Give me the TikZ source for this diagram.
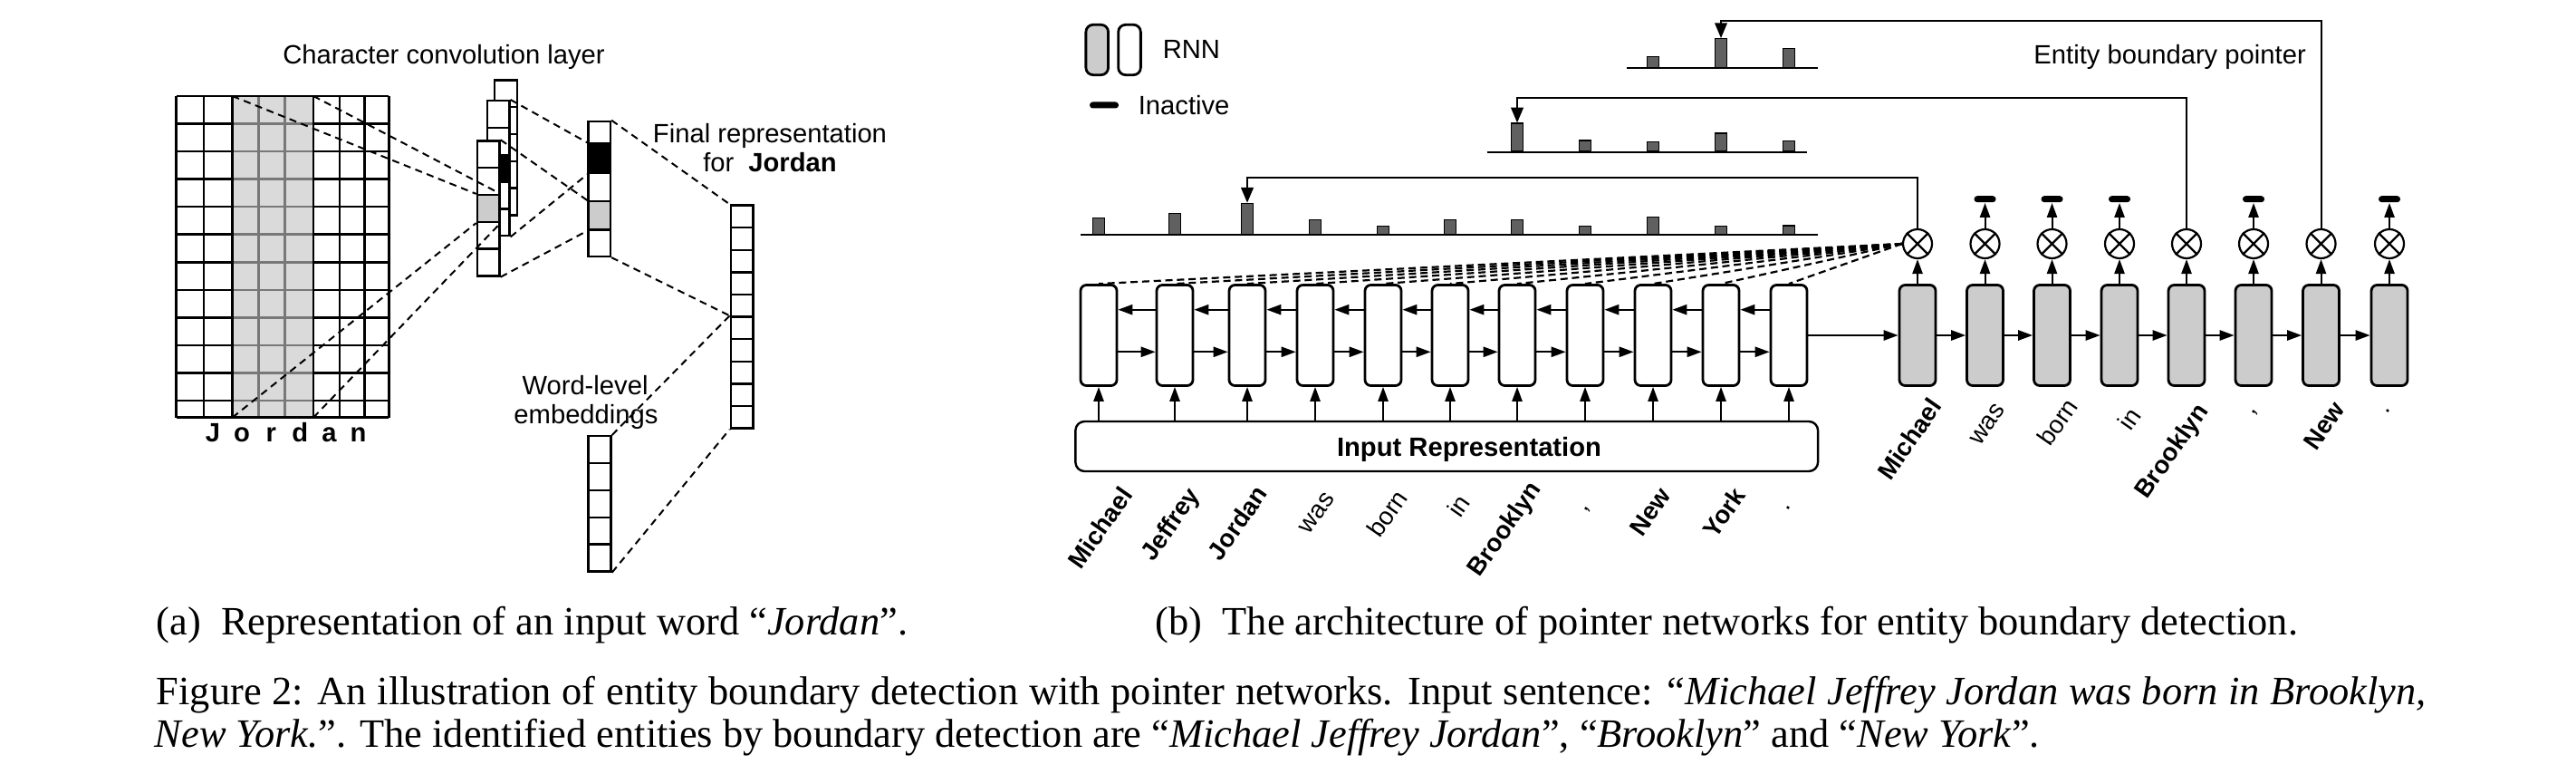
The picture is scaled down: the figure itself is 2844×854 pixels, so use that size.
\documentclass[tikz,border=0pt]{standalone}
\usepackage{fontspec}
\setmainfont{Liberation Serif}
\newfontfamily\diagfont{Liberation Sans}
\usetikzlibrary{calc}
\usetikzlibrary{arrows.meta}

\newcommand{\pxu}{0.25pt}
\definecolor{cellgray}{RGB}{204,204,204}
\definecolor{bandgray}{RGB}{218,218,218}
\definecolor{gridgray}{RGB}{120,120,120}
\definecolor{bargray}{RGB}{96,96,96}

\tikzset{
  txt/.style={font=\diagfont\fontsize{7.3pt}{8.8pt}\selectfont, inner sep=0pt},
  txtb/.style={font=\diagfont\bfseries\fontsize{7.3pt}{8.8pt}\selectfont, inner sep=0pt},
  capline/.style={font=\fontsize{11.1pt}{13pt}\selectfont, inner sep=0pt, anchor=base west},
  gridline/.style={line width=0.65pt},
  cellbox/.style={draw, line width=0.6pt, inner sep=0pt, anchor=north west},
  rnnbox/.style={draw, line width=0.7pt, rounded corners=1.6pt, minimum width=40*\pxu, minimum height=111*\pxu, inner sep=0pt},
  encbox/.style={rnnbox, fill=white},
  decbox/.style={rnnbox, fill=cellgray},
  arr/.style={line width=0.5pt, -{Triangle[length=4pt,width=2.8pt]}},
  pointer/.style={line width=0.5pt, -{Triangle[length=4.2pt,width=3.4pt]}},
  mulnode/.style={draw, circle, line width=0.55pt, minimum size=32*\pxu, inner sep=0pt},
  offmark/.style={fill=black, rounded corners=0.85pt, minimum width=24*\pxu, minimum height=7*\pxu, inner sep=0pt},
  attbar/.style={draw, fill=bargray, line width=0.3pt, minimum width=12.6*\pxu, inner sep=0pt, anchor=south},
  chartaxis/.style={line width=0.5pt},
  proj/.style={line width=0.5pt, dash pattern=on 2pt off 1.4pt},
  attn/.style={line width=0.55pt, dash pattern=on 2pt off 1.2pt},
  wordlbl/.style={font=\diagfont\fontsize{6.9pt}{8.2pt}\selectfont, inner sep=0pt, rotate=55, anchor=base east},
}

\begin{document}
\begin{tikzpicture}[x=\pxu, y=-\pxu]
  \useasboundingbox (0,0) rectangle (2844,854); %画像の大きさ

  %%%%% (a) 単語の表現
  \coordinate (bandtl) at (256.5,106); %帯の左上
  \coordinate (bandtr) at (346,106); %帯の右上
  \coordinate (bandbl) at (256.5,460.7); %帯の左下
  \coordinate (bandbr) at (346,460.7); %帯の右下
  \fill[bandgray] (bandtl) rectangle (bandbr); %灰色の帯
  \foreach \k in {1,...,11}{
    \draw[gridline, draw=gridgray] (256.5,{106+30.55*\k}) -- (346,{106+30.55*\k});
    \draw[gridline] (194.5,{106+30.55*\k}) -- (256.5,{106+30.55*\k});
    \draw[gridline] (346,{106+30.55*\k}) -- (429.2,{106+30.55*\k});
  }
  \foreach \gx in {285.4,314.4} \draw[gridline, draw=gridgray] (\gx,106) -- (\gx,460.7); %帯の中の縦線
  \foreach \gx in {194.5,224.8,256.5,346,375,402.5,429.2} \draw[gridline] (\gx,106) -- (\gx,460.7); %縦線
  \draw[gridline] (194.5,106) -- (429.2,106); %上端
  \draw[gridline] (194.5,460.7) -- (429.2,460.7); %下端
  \foreach \ch [count=\i from 0] in {J,o,r,d,a,n}
    \node[txtb, anchor=base] (chr\i) at ({235+32.1*\i},487) {\ch}; %文字

  \node[txt, anchor=base] (convlbl) at (490,70.4) {Character convolution layer};

  % 畳み込みの列
  \foreach \k/\ff in {0/white,1/white,2/white,3/white,4/white}
    \node[cellbox, fill=\ff, minimum width=24.5*\pxu, minimum height=29.8*\pxu] (A\k) at (545,{87.3+29.8*\k}) {};
  \foreach \k/\ff in {0/white,1/white,2/black,3/white,4/white}
    \node[cellbox, fill=\ff, minimum width=24.5*\pxu, minimum height=29.8*\pxu] (B\k) at (536.7,{110+29.8*\k}) {};
  \foreach \k/\ff in {0/white,1/white,2/cellgray,3/white,4/white}
    \node[cellbox, fill=\ff, minimum width=24.5*\pxu, minimum height=29.8*\pxu] (C\k) at (525.7,{154.3+29.8*\k}) {};

  % プーリング後
  \foreach \k/\yy/\hh/\ff in {0/132.7/24.6/white,1/157.3/32.7/black,2/190/31/white,3/221/31.3/cellgray,4/252.3/29.4/white}
    \node[cellbox, fill=\ff, minimum width=24.4*\pxu, minimum height=\hh*\pxu] (M\k) at (648.3,\yy) {};

  % 最終表現
  \foreach \k in {0,...,9}
    \node[cellbox, fill=white, minimum width=24.8*\pxu, minimum height=24.59*\pxu] (F\k) at (805.6,{225.4+24.59*\k}) {};
  % 単語埋め込み
  \foreach \k in {0,...,4}
    \node[cellbox, fill=white, minimum width=25*\pxu, minimum height=29.86*\pxu] (W\k) at (648.3,{480+29.86*\k}) {};

  \node[txt, anchor=base] (finallbl) at (850,158) {Final representation};
  \node[txt, anchor=base] (forlbl) at (850,190) {for\hspace{0.55em}\textbf{Jordan}};
  \node[txt, anchor=base] (wordlvl) at (646,436) {Word-level};
  \node[txt, anchor=base] (emblbl) at (647,468) {embeddings};

  \draw[proj] (bandtl) -- (C2.north west);
  \draw[proj] (bandtr) -- (C2.north east);
  \draw[proj] (bandbl) -- (C2.south west);
  \draw[proj] (bandbr) -- (C2.south east);
  \draw[proj] (B0.north east) -- (M1.north west);
  \draw[proj] (B4.south east) -- (M1.south west);
  \draw[proj] (C0.north east) -- (M3.north west);
  \draw[proj] (C4.south east) -- (M3.south west);
  \draw[proj] (M0.north east) -- (F0.north west);
  \draw[proj] (M4.south east) -- (F5.north west);
  \draw[proj] (W0.north east) -- (F5.north west);
  \draw[proj] (W4.south east) -- (F9.south west);

  %%%%% (b) ポインタネットワーク
  % 凡例
  \node[rnnbox, fill=cellgray, minimum width=24.7*\pxu, minimum height=55.4*\pxu, rounded corners=2pt] (leggray) at (1211.2,55) {};
  \node[rnnbox, fill=white, minimum width=24.7*\pxu, minimum height=55.4*\pxu, rounded corners=2pt] (legwhite) at (1247,55) {};
  \node[txt, anchor=base west] (legrnn) at (1283,65) {RNN};
  \node[offmark, minimum width=32*\pxu] (legoff) at (1219,116) {};
  \node[txt, anchor=base west] (legofftxt) at (1256,127) {Inactive};

  \coordinate (bwdrow) at (0,341.7); %逆向きの矢印の高さ
  \coordinate (fwdrow) at (0,388.3); %順向きの矢印の高さ
  \coordinate (mulrow) at (0,269); %掛け算の高さ
  \coordinate (offrow) at (0,219.7); %非活性の高さ
  \coordinate (botaxis) at (0,259); %下のグラフ
  \coordinate (midaxis) at (0,167.7); %中のグラフ
  \coordinate (topaxis) at (0,75); %上のグラフ
  \coordinate (lanebot) at (0,196);
  \coordinate (lanemid) at (0,107.7);
  \coordinate (lanetop) at (0,23.3);

  % エンコーダ
  \foreach \i/\xx in {1/1213,2/1297,3/1377,4/1452,5/1527,6/1601,7/1675,8/1750,9/1825,10/1900,11/1975}
    \node[encbox] (enc\i) at (\xx,370) {};
  \node[draw, line width=0.6pt, rounded corners=2.5pt, minimum width=819.7*\pxu, minimum height=55*\pxu, inner sep=0pt] (input) at (1597.2,492.5) {};
  \node[txtb, anchor=base] (inputlbl) at (1622,503) {Input Representation};
  \foreach \i in {1,...,11}
    \draw[arr] (enc\i.south |- input.north) -- (enc\i.south);
  \foreach \i [count=\j from 2] in {1,...,10}{
    \draw[arr] (enc\j.west |- bwdrow) -- (enc\i.east |- bwdrow);
    \draw[arr] (enc\i.east |- fwdrow) -- (enc\j.west |- fwdrow);
  }

  % デコーダ
  \foreach \i/\xx in {1/2117,2/2191.5,3/2265.5,4/2340,5/2414,6/2488,7/2562.5,8/2638}
    \node[decbox] (dec\i) at (\xx,370) {};
  \draw[arr] (enc11.east) -- (dec1.west);
  \foreach \i [count=\j from 2] in {1,...,7}
    \draw[arr] (dec\i.east) -- (dec\j.west);
  \foreach \i in {1,...,8}{
    \node[mulnode] (mul\i) at (dec\i |- mulrow) {};
    \draw[line width=0.55pt] (mul\i.45) -- (mul\i.225);
    \draw[line width=0.55pt] (mul\i.135) -- (mul\i.315);
    \draw[arr] (dec\i.north) -- (mul\i.south);
  }
  \foreach \i in {2,3,4,6,8}{
    \node[offmark] (off\i) at (mul\i |- offrow) {};
    \draw[arr] (mul\i.north) -- (off\i.south);
  }
  \foreach \i in {1,...,11}
    \draw[attn] (mul1.west) -- (enc\i.north);

  % 注意の分布
  \draw[chartaxis] (1193,259) -- (2007,259);
  \foreach \i/\hh in {1/18,2/23,3/34,4/16,5/9,6/16,7/16,8/9,9/19,10/9,11/9.3}
    \node[attbar, minimum height=\hh*\pxu] (bot\i) at (enc\i |- botaxis) {};
  \draw[chartaxis] (1642,167.7) -- (1995,167.7);
  \foreach \i/\hh in {7/31,8/12,9/10.4,10/20,11/11.7}
    \node[attbar, minimum height=\hh*\pxu] (mid\i) at (enc\i |- midaxis) {};
  \draw[chartaxis] (1796,75) -- (2007,75);
  \foreach \i/\hh in {9/11.7,10/31.7,11/20.7}
    \node[attbar, minimum height=\hh*\pxu] (top\i) at (enc\i |- topaxis) {};

  \draw[pointer] (mul1.north) |- (bot3.north |- lanebot) -- (bot3.north);
  \draw[pointer] (mul5.north) |- (mid7.north |- lanemid) -- (mid7.north);
  \draw[pointer] (mul7.north) |- (top10.north |- lanetop) -- (top10.north);
  \node[txt, anchor=base] (ptrlbl) at (2395.6,70.7) {Entity boundary pointer};

  % 単語
  \foreach \i/\xx/\yy/\wf/\ww in {1/1252/546/\bfseries/Michael,2/1326/546/\bfseries/Jeffrey,3/1401/544/\bfseries/Jordan,4/1474.5/550/\mdseries/was,5/1556/549/\mdseries/born,6/1625/554/\mdseries/in,7/1703/539/\bfseries/Brooklyn,8/1755/559/\mdseries/{,},9/1846/546/\bfseries/New,10/1929/546/\bfseries/York,11/1978/558/\mdseries/{.}}
    \node[wordlbl] (ew\i) at (\xx,\yy) {\wf\ww};
  \foreach \i/\xx/\yy/\wf/\ww in {1/2145.5/448/\bfseries/Michael,2/2215/451.5/\mdseries/was,3/2296/448/\mdseries/born,4/2365.5/458/\mdseries/in,5/2439.5/453/\bfseries/Brooklyn,6/2492/452/\mdseries/{,},7/2590/451/\bfseries/New,8/2640/451/\mdseries/{.}}
    \node[wordlbl] (dw\i) at (\xx,\yy) {\wf\ww};

  %%%%% キャプション
  \node[capline] (capa) at (172,700) {(a)\enspace Representation of an input word “\textit{Jordan}”.};
  \node[capline] (capb) at (1275,700) {(b)\enspace The architecture of pointer networks for entity boundary detection.};
  \node[capline] (figa) at (172,777) {\makebox[626.5pt][s]{Figure 2: An illustration of entity boundary detection with pointer networks. Input sentence: “\textit{Michael Jeffrey Jordan was born in Brooklyn,}}};
  \node[capline] (figb) at (170,824) {\textit{New York.}”. The identified entities by boundary detection are “\textit{Michael Jeffrey Jordan}”, “\textit{Brooklyn}” and “\textit{New York}”.};

\end{tikzpicture}
\end{document}
